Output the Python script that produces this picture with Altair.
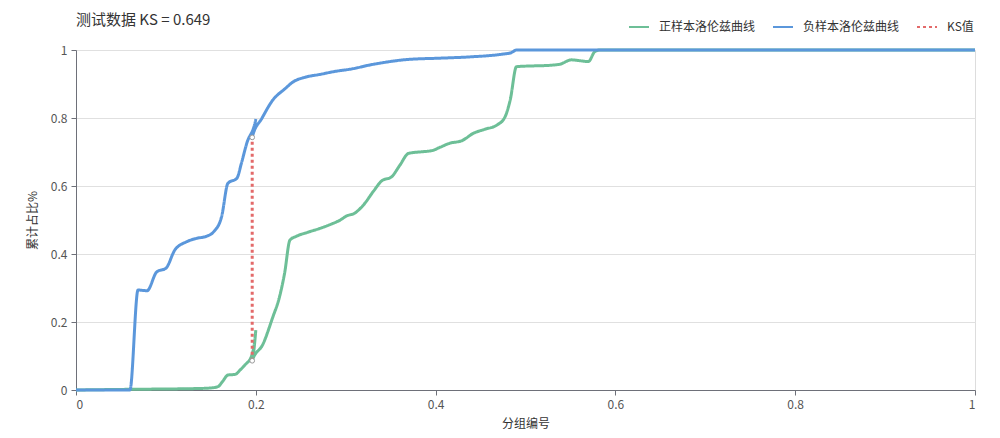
import altair as alt
import pandas as pd

FONT = "Noto Sans CJK SC"

series_names = ["正样本洛伦兹曲线", "负样本洛伦兹曲线", "KS值"]
series_colors = ["#6dbf97", "#5b97db", "#e36a6a"]

neg_x = [0, 0.06, 0.069, 0.079, 0.09, 0.1, 0.11, 0.123, 0.134, 0.145, 0.153, 0.162,
         0.169, 0.179, 0.184, 0.19, 0.2, 0.196, 0.207, 0.219, 0.232, 0.242, 0.255,
         0.271, 0.286, 0.31, 0.325, 0.342, 0.368, 0.405, 0.44, 0.475, 0.484, 0.49,
         0.6, 0.8, 1.0]
neg_y = [0, 0, 0.294, 0.292, 0.348, 0.358, 0.412, 0.436, 0.446, 0.452, 0.465, 0.51,
         0.608, 0.623, 0.667, 0.726, 0.797, 0.743, 0.8, 0.853, 0.885, 0.907, 0.92,
         0.928, 0.936, 0.946, 0.955, 0.963, 0.972, 0.976, 0.98, 0.988, 0.992, 1.0,
         1.0, 1.0, 1.0]

pos_x = [0, 0.06, 0.1, 0.13, 0.15, 0.158, 0.163, 0.169, 0.177, 0.183, 0.188, 0.195,
         0.2, 0.196, 0.208, 0.219, 0.226, 0.232, 0.238, 0.245, 0.258, 0.271, 0.284,
         0.294, 0.301, 0.31, 0.32, 0.331, 0.34, 0.351, 0.36, 0.37, 0.386, 0.396,
         0.405, 0.416, 0.429, 0.442, 0.455, 0.468, 0.477, 0.483, 0.49, 0.505, 0.52,
         0.538, 0.551, 0.562, 0.57, 0.577, 0.583, 0.7, 0.8, 1.0]
pos_y = [0, 0.002, 0.003, 0.004, 0.006, 0.01, 0.025, 0.044, 0.046, 0.06, 0.074, 0.098,
         0.176, 0.086, 0.135, 0.215, 0.27, 0.343, 0.441, 0.452, 0.464, 0.475, 0.488,
         0.5, 0.512, 0.52, 0.545, 0.585, 0.615, 0.627, 0.66, 0.696, 0.701, 0.704,
         0.714, 0.726, 0.733, 0.755, 0.767, 0.779, 0.802, 0.853, 0.951, 0.953, 0.954,
         0.958, 0.971, 0.968, 0.966, 0.995, 1.0, 1.0, 1.0, 1.0]

ks_x = [0.196, 0.196]
ks_y = [0.086, 0.743]

rows = []
for name, xs, ys in [(series_names[0], pos_x, pos_y),
                     (series_names[1], neg_x, neg_y),
                     (series_names[2], ks_x, ks_y)]:
    for i, (xv, yv) in enumerate(zip(xs, ys)):
        rows.append({"series": name, "x": xv, "y": yv, "idx": i})
df = pd.DataFrame(rows)
ks_df = pd.DataFrame({"x": ks_x, "y": ks_y})

legend = alt.Legend(
    title=None, orient="none", direction="horizontal",
    legendX=552, legendY=-34,
    symbolType="stroke", symbolSize=400, symbolStrokeWidth=2,
    labelFont=FONT, labelFontSize=12, labelColor="#333",
    labelOffset=9, columnPadding=13, symbolOffset=0,
)

x_enc = alt.X("x:Q", title="分组编号",
              scale=alt.Scale(domain=[0, 1], nice=False),
              axis=alt.Axis(values=[0, 0.2, 0.4, 0.6, 0.8, 1.0], format=".1~f",
                            grid=False, domainColor="#6e7079", tickColor="#6e7079",
                            labelColor="#555", labelFont=FONT, labelFontSize=12,
                            titleFont=FONT, titleFontSize=12, titleColor="#333",
                            titleFontWeight="normal", titlePadding=8, tickSize=5,
                            labelPadding=4))
y_enc = alt.Y("y:Q", title="累计占比%",
              scale=alt.Scale(domain=[0, 1], nice=False),
              axis=alt.Axis(values=[0, 0.2, 0.4, 0.6, 0.8, 1.0], format=".1~f",
                            grid=True, gridColor="#e0e0e0", domainColor="#6e7079",
                            tickColor="#6e7079", labelColor="#555", labelFont=FONT,
                            labelFontSize=12, titleFont=FONT, titleFontSize=12,
                            titleColor="#333", titleFontWeight="normal",
                            titlePadding=11, tickSize=5, labelPadding=4))

lines = alt.Chart(df).mark_line(interpolate="monotone", strokeWidth=3).encode(
    x=x_enc, y=y_enc,
    color=alt.Color("series:N", scale=alt.Scale(domain=series_names, range=series_colors),
                    legend=legend),
    strokeDash=alt.StrokeDash("series:N",
                              scale=alt.Scale(domain=series_names,
                                              range=[[1, 0], [1, 0], [3, 3]]),
                              legend=legend),
    order=alt.Order("idx:Q"),
)

pts = alt.Chart(ks_df).mark_point(filled=True, fill="white", stroke="#999",
                                  strokeWidth=1, size=22, opacity=1).encode(
    x="x:Q", y="y:Q")

chart = alt.layer(lines, pts).properties(
    width=899, height=340,
    autosize=alt.AutoSizeParams(type="none"),
    padding={"left": 68, "top": 42, "right": 17, "bottom": 40},
    title=alt.TitleParams("测试数据 KS = 0.649", anchor="start", frame="group",
                          font=FONT, fontSize=15, fontWeight="normal",
                          color="#333", offset=-12),
).configure_view(stroke=None).configure(font=FONT)

chart.save("out.html", embed_options={"renderer": "svg", "actions": False})
